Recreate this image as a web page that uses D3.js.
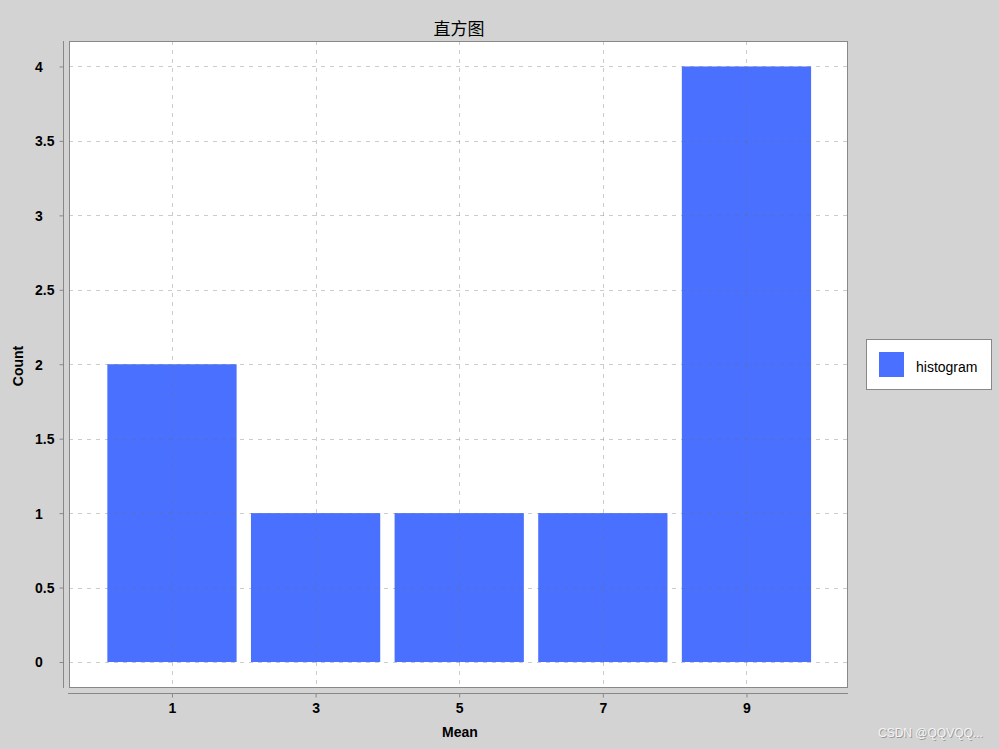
<!DOCTYPE html>
<html><head><meta charset="utf-8">
<script src="https://cdn.jsdelivr.net/npm/d3@7/dist/d3.min.js"></script>
<style>html,body{margin:0;padding:0;background:#d3d3d3;}svg{display:block;}</style>
</head><body>
<script>
const binCenters = [1, 3, 5, 7, 9];
const counts = [2, 1, 1, 1, 4];
const binWidth = 2;
const xTicks = [1, 3, 5, 7, 9];
const yTicks = [0, 0.5, 1, 1.5, 2, 2.5, 3, 3.5, 4];
const seriesName = "histogram";
const title = "直方图";
const xLabel = "Mean";
const yLabel = "Count";

const W = 999, H = 749;
const plot = {l: 69, t: 41, r: 848, b: 688};
const svg = d3.select("body").append("svg").attr("width", W).attr("height", H);
svg.append("rect").attr("width", W).attr("height", H).attr("fill", "#d3d3d3");

const x = d3.scaleLinear().domain([-0.434, 10.414]).range([plot.l, plot.r]);
const y = d3.scaleLinear().domain([-0.1746, 4.171]).range([plot.b, plot.t]);

svg.append("rect").attr("x", plot.l).attr("y", plot.t)
  .attr("width", plot.r - plot.l).attr("height", plot.b - plot.t).attr("fill", "#fff");

const barColor = "#4a70ff";
const data = binCenters.map((c, i) => ({c, v: counts[i]}));
svg.append("g").selectAll("rect").data(data).join("rect")
  .attr("x", d => x(d.c - binWidth / 2 + 0.1))
  .attr("width", d => x(d.c + binWidth / 2 - 0.1) - x(d.c - binWidth / 2 + 0.1))
  .attr("y", d => y(d.v))
  .attr("height", d => y(0) - y(d.v))
  .attr("fill", barColor);

// grid (drawn over bars)
const grid = svg.append("g").attr("stroke", "rgba(110,110,110,0.35)").attr("stroke-width", 1)
  .attr("stroke-dasharray", "4,5");
grid.selectAll(".gy").data(yTicks).join("line")
  .attr("x1", plot.l).attr("x2", plot.r)
  .attr("y1", d => Math.round(y(d)) + 0.5).attr("y2", d => Math.round(y(d)) + 0.5);
grid.selectAll(".gx").data(xTicks).join("line")
  .attr("y1", plot.t).attr("y2", plot.b)
  .attr("x1", d => Math.round(x(d)) + 0.5).attr("x2", d => Math.round(x(d)) + 0.5);

svg.append("rect").attr("x", plot.l + 0.5).attr("y", plot.t + 0.5)
  .attr("width", plot.r - plot.l - 1).attr("height", plot.b - plot.t - 1)
  .attr("fill", "none").attr("stroke", "#888").attr("stroke-width", 1);

// Y axis
const yAxis = svg.append("g").attr("transform", "translate(63.5,0)");
yAxis.call(d3.axisLeft(y).tickValues(yTicks).tickSize(4).tickSizeOuter(0).tickFormat(d3.format("~g")));
yAxis.select(".domain").attr("stroke", "#888").attr("d", `M0,${plot.t}V${plot.b}`);
yAxis.selectAll(".tick line").attr("stroke", "#888");
yAxis.selectAll(".tick text").attr("x", -28.5).attr("text-anchor", "start")
  .attr("font-family", "Liberation Sans, Arial, sans-serif").attr("font-size", 14)
  .attr("font-weight", "bold").attr("fill", "#000").attr("dy", "0.35em");

// X axis
const xAxis = svg.append("g").attr("transform", "translate(0,693.5)");
xAxis.call(d3.axisBottom(x).tickValues(xTicks).tickSize(4).tickSizeOuter(0).tickFormat(d3.format("d")));
xAxis.select(".domain").attr("stroke", "#888").attr("d", `M${plot.l - 1},0H${plot.r}`);
xAxis.selectAll(".tick line").attr("stroke", "#888");
xAxis.selectAll(".tick text").attr("y", 19.5).attr("dy", 0)
  .attr("font-family", "Liberation Sans, Arial, sans-serif").attr("font-size", 14)
  .attr("font-weight", "bold").attr("fill", "#000");

// Title & labels
svg.append("text").attr("x", 459).attr("y", 35).attr("text-anchor", "middle")
  .attr("font-family", "Noto Sans CJK SC, sans-serif").attr("font-size", 17).attr("fill", "#000").text(title);
svg.append("text").attr("x", 460).attr("y", 737).attr("text-anchor", "middle")
  .attr("font-family", "Liberation Sans, Arial, sans-serif").attr("font-size", 14)
  .attr("font-weight", "bold").text(xLabel);
svg.append("text").attr("transform", "translate(23,366) rotate(-90)").attr("text-anchor", "middle")
  .attr("font-family", "Liberation Sans, Arial, sans-serif").attr("font-size", 14)
  .attr("font-weight", "bold").text(yLabel);

// Legend
const lg = svg.append("g");
lg.append("rect").attr("x", 866.5).attr("y", 339.5).attr("width", 125).attr("height", 50)
  .attr("fill", "#fff").attr("stroke", "#888");
lg.append("rect").attr("x", 879).attr("y", 352).attr("width", 25).attr("height", 25).attr("fill", barColor);
lg.append("text").attr("x", 916).attr("y", 372).attr("font-family", "Liberation Sans, Arial, sans-serif")
  .attr("font-size", 14).attr("fill", "#000").text(seriesName);

// watermark
svg.append("text").attr("x", 879).attr("y", 738).attr("font-family", "Liberation Sans, Arial, sans-serif")
  .attr("font-size", 12).attr("fill", "#999").text("CSDN @QQVQQ...");
svg.append("text").attr("x", 878).attr("y", 737).attr("font-family", "Liberation Sans, Arial, sans-serif")
  .attr("font-size", 12).attr("fill", "#f4f4f4").text("CSDN @QQVQQ...");
</script>
</body></html>
